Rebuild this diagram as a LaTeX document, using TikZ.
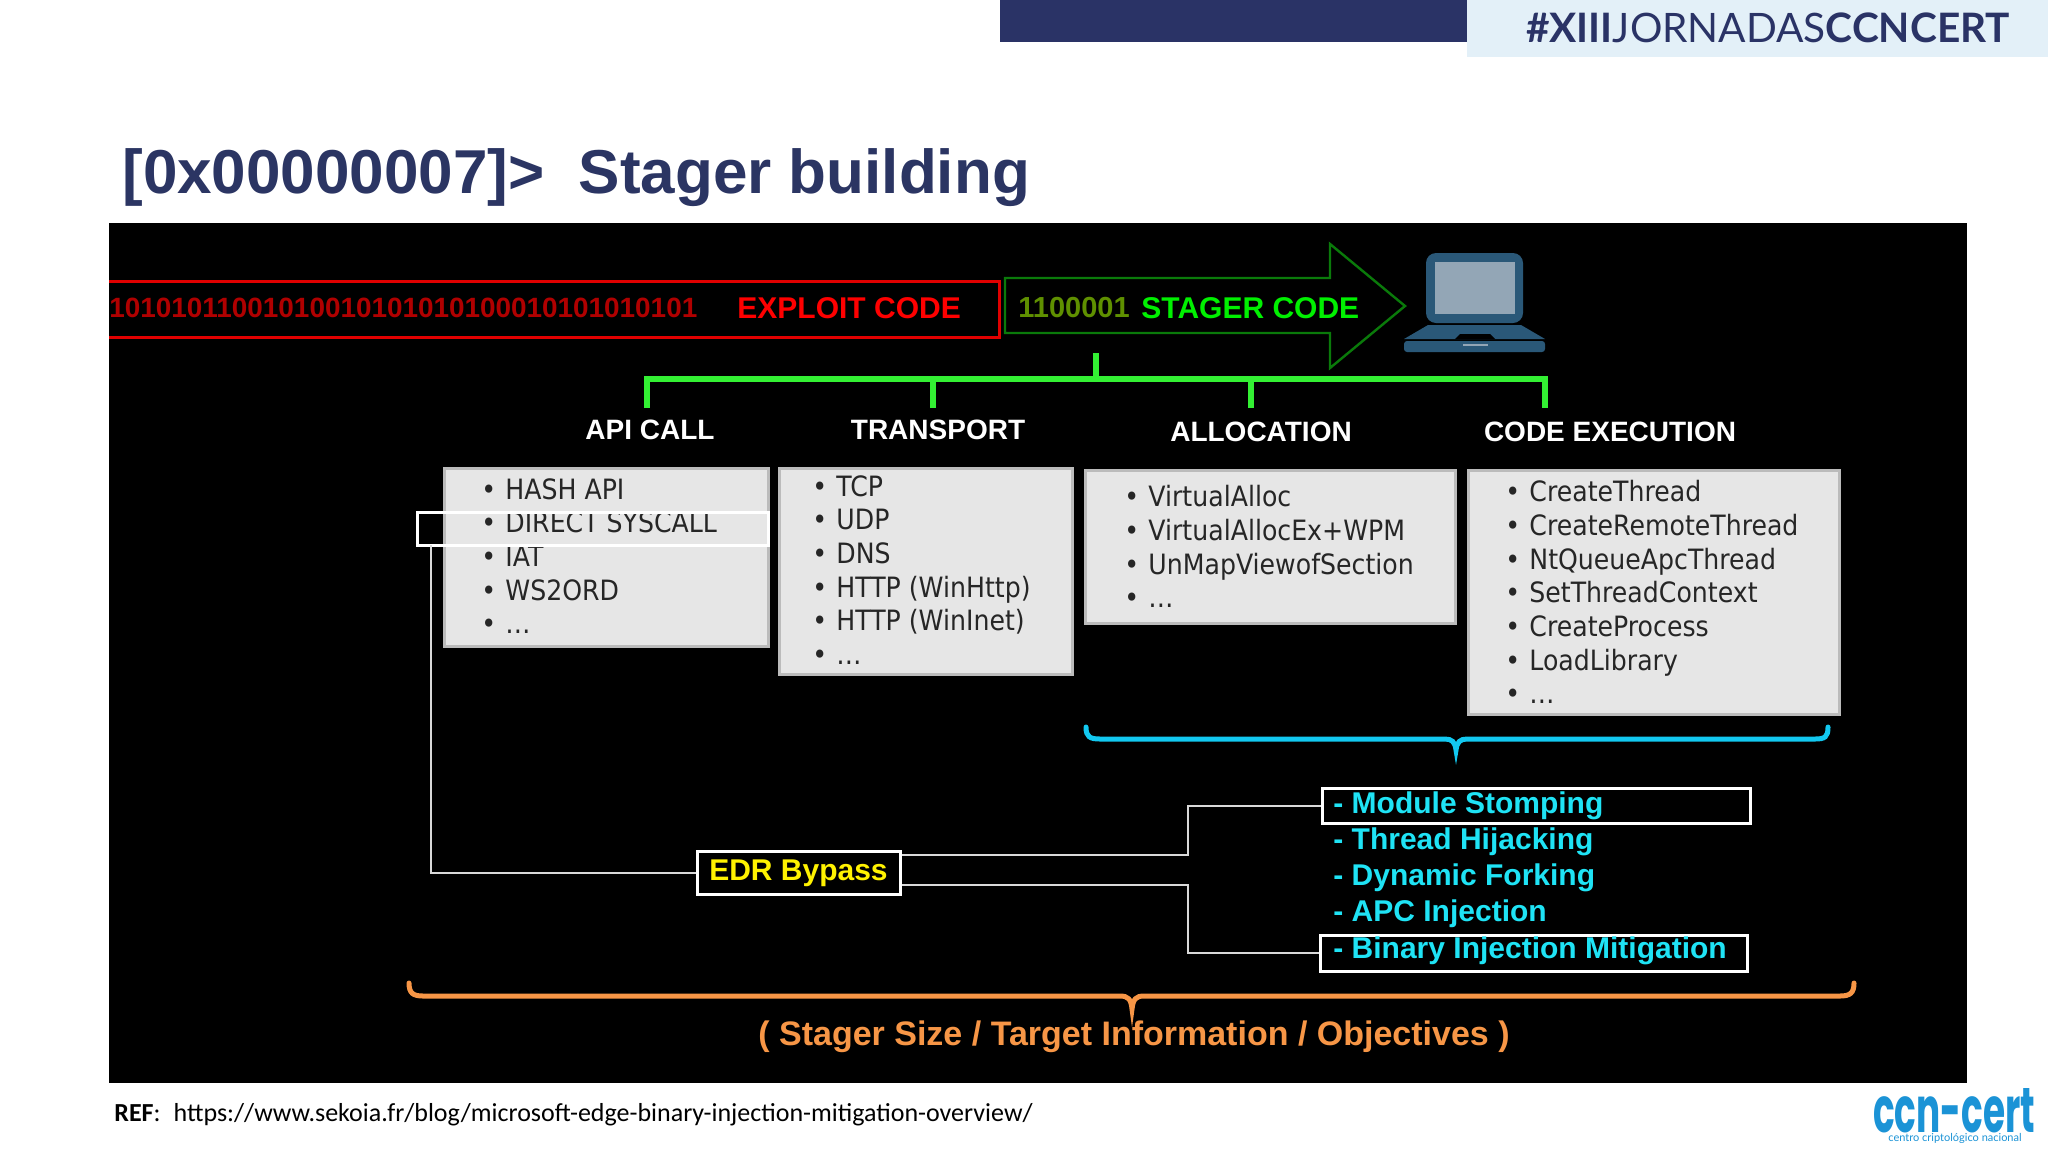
\documentclass[tikz,border=0pt]{standalone}
\usepackage{fontspec}
\setmainfont{Liberation Sans}
\newfontfamily\listfont[FakeStretch=0.9]{DejaVu Sans}
\newfontfamily\headfont{Lato}
\newfontfamily\reffont{Carlito}
\newfontfamily\logofont{Poppins}
\usetikzlibrary{calc}
\definecolor{navy}{HTML}{2A3366}
\definecolor{paleblue}{HTML}{E3F0F8}
\definecolor{titlecol}{HTML}{2B3563}
\definecolor{redbox}{HTML}{E00000}
\definecolor{darkred}{HTML}{B00000}
\definecolor{arrowgreen}{HTML}{0A7A0A}
\definecolor{olive}{HTML}{5F9000}
\definecolor{limeg}{HTML}{00F000}
\definecolor{brgreen}{HTML}{33F033}
\definecolor{boxgrey}{HTML}{E6E6E6}
\definecolor{boxedge}{HTML}{BBBBBB}
\definecolor{cyantext}{HTML}{1FE3F5}
\definecolor{cyanbrace}{HTML}{12C8F0}
\definecolor{orangec}{HTML}{F79646}
\definecolor{lapdark}{HTML}{2A5878}
\definecolor{lapscreen}{HTML}{93A6B6}
\definecolor{logoblue}{HTML}{1B93D6}
\newcommand{\itm}[1]{\makebox[12pt][l]{\raisebox{0pt}{\textbullet}}#1\\}
\tikzset{
  head/.style={text=white,font=\bfseries\fontsize{14}{16}\selectfont,inner sep=0pt},
  greybox/.style={draw=boxedge,line width=1.5pt,fill=boxgrey,inner sep=0pt},
  listtext/.style={anchor=north west,inner sep=0pt,align=left,text=black!85,font=\listfont\fontsize{14}{16.85}\selectfont},
  greenline/.style={draw=brgreen,line width=3pt},
  wire/.style={draw=white!85!black,line width=1pt},
  whitebox/.style={draw=white,line width=1.5pt,inner sep=0pt},
  mitig/.style={anchor=west,inner sep=0pt,text=cyantext,font=\bfseries\fontsize{15}{17}\selectfont},
}
\begin{document}
\begin{tikzpicture}[x=0.5pt,y=-0.5pt]
\useasboundingbox (0,0) rectangle (2048,1152);
\fill[white] (0,0) rectangle (2048,1152);
% header
\fill[navy] (1000,0) rectangle (1467,42);
\fill[paleblue] (1467,0) rectangle (2048,57);
\node[anchor=center,inner sep=0pt,text=navy] (tag) at (1768,28)
  {\resizebox{242pt}{!}{\headfont\fontsize{20}{22}\selectfont\bfseries \#XIII\mdseries JORNADAS\bfseries CCNCERT}};
\node[anchor=west,inner sep=0pt,text=titlecol,font=\bfseries\fontsize{31}{34}\selectfont] (title) at (122,178) {[0x00000007]>\hspace{0.55em}Stager building};
% black panel
\fill[black] (109,223) rectangle (1967,1083);
% exploit bar
\draw[redbox,line width=1.5pt] (109,281) -- (999,281) -- (999,337) -- (109,337);
\node[anchor=west,inner sep=0pt,text=darkred,font=\bfseries\fontsize{14.5}{16}\selectfont] (bits) at (109,308) {\resizebox{294pt}{!}{10101011001010010101010100010101010101}};
\node[anchor=west,inner sep=0pt,text=red,font=\bfseries\fontsize{15}{17}\selectfont] (exploit) at (737,308) {EXPLOIT CODE};
% stager arrow
\draw[arrowgreen,line width=1.2pt] (1005,278) -- (1330,278) -- (1330,244) -- (1405,306) -- (1330,368) -- (1330,333) -- (1005,333) -- cycle;
\node[anchor=west,inner sep=0pt,text=olive,font=\bfseries\fontsize{14.5}{16}\selectfont] (bin) at (1018,308) {1100001};
\node[anchor=west,inner sep=0pt,text=limeg,font=\bfseries\fontsize{15}{17}\selectfont] (stager) at (1141,308) {STAGER CODE};
% laptop
\fill[lapdark,rounded corners=5pt] (1426,253) -- (1523,253) -- (1523,323) -- (1426,323) -- cycle;
\fill[lapscreen] (1435,262) rectangle (1515,314);
\fill[lapdark] (1428,325) -- (1521,325) -- (1545,339) -- (1404,339) -- cycle;
\fill[black] (1455,339) -- (1460,334) -- (1490,334) -- (1495,339) -- cycle;
\fill[lapdark,rounded corners=1.5pt] (1404,341) rectangle (1545,352);
\fill[lapscreen] (1463,344) rectangle (1488,346);
% green bracket
\coordinate (stem) at (1096,353);
\coordinate (busA) at (1096,379);
\coordinate (legA) at (647,408);
\coordinate (legB) at (933,408);
\coordinate (legC) at (1251,408);
\coordinate (legD) at (1545,408);
\draw[greenline] (legA) |- (busA) -| (legD);
\draw[greenline] (stem) -- (busA);
\draw[greenline] (legB) -- (legB |- busA);
\draw[greenline] (legC) -- (legC |- busA);
% headings
\node[head] (hApi) at (650,430) {API CALL};
\node[head] (hTra) at (938,430) {TRANSPORT};
\node[head] (hAll) at (1261,432) {ALLOCATION};
\node[head] (hCod) at (1610,432) {CODE EXECUTION};
% grey boxes
\node[greybox,minimum width=162pt,minimum height=89pt] (bApi) at (606,557) {};
\node[greybox,minimum width=146.5pt,minimum height=103pt] (bTra) at (925.5,571) {};
\node[greybox,minimum width=185pt,minimum height=76.5pt] (bAll) at (1270,546.5) {};
\node[greybox,minimum width=185.5pt,minimum height=122pt] (bCod) at (1653.5,592) {};
\node[listtext] (lApi) at (481,478) {\itm{HASH API}\itm{DIRECT SYSCALL}\itm{IAT}\itm{WS2ORD}\itm{\dots}};
\node[listtext] (lTra) at (812,475) {\itm{TCP}\itm{UDP}\itm{DNS}\itm{HTTP (WinHttp)}\itm{HTTP (WinInet)}\itm{\dots}};
\node[listtext] (lAll) at (1124,485) {\itm{VirtualAlloc}\itm{VirtualAllocEx+WPM}\itm{UnMapViewofSection}\itm{\dots}};
\node[listtext] (lCod) at (1505,480) {\itm{CreateThread}\itm{CreateRemoteThread}\itm{NtQueueApcThread}\itm{SetThreadContext}\itm{CreateProcess}\itm{LoadLibrary}\itm{\dots}};
% selection
\node[whitebox,minimum width=175.5pt,minimum height=16.5pt] (sel) at (592.5,528.5) {};
\coordinate (selOut) at (431,545);
% EDR
\node[draw=white,line width=1.5pt,inner sep=0pt,minimum width=101.5pt,minimum height=21.5pt,text=yellow,font=\bfseries\fontsize{15}{17}\selectfont] (edr) at (798.5,873) {EDR Bypass};
\draw[wire] (selOut) |- (edr.west);
% mitigations
\node[whitebox,minimum width=214pt,minimum height=17.5pt] (mod) at (1536,805.5) {};
\node[whitebox,minimum width=213.5pt,minimum height=18pt] (bin2) at (1533.5,953) {};
\node[mitig] (m1) at (1333,806) {- Module Stomping};
\node[mitig] (m2) at (1333,842) {- Thread Hijacking};
\node[mitig] (m3) at (1333,878) {- Dynamic Forking};
\node[mitig] (m4) at (1333,914) {- APC Injection};
\node[mitig] (m5) at (1333,951) {- Binary Injection Mitigation};
\coordinate (joint) at (1188,873);
\draw[wire] ($(edr.east)+(0,-18)$) -| (joint |- mod.west) -- (mod.west);
\draw[wire] ($(edr.east)+(0,12)$) -| (joint |- bin2.west) -- (bin2.west);
% braces
\draw[cyanbrace,line width=2.5pt,line cap=round] (1086,727) .. controls (1086,737) and (1090,739) .. (1100,739) -- (1445,739) .. controls (1452,739) and (1455,742) .. (1456,750) .. controls (1457,742) and (1460,739) .. (1467,739) -- (1815,739) .. controls (1825,739) and (1828,737) .. (1828,727);
\draw[orangec,line width=2.5pt,line cap=round] (409,983) .. controls (409,993) and (413,996) .. (423,996) -- (1120,996) .. controls (1128,996) and (1131,999) .. (1132,1009) .. controls (1133,999) and (1136,996) .. (1144,996) -- (1840,996) .. controls (1850,996) and (1854,993) .. (1854,983);
\node[inner sep=0pt,text=orangec,font=\bfseries\fontsize{17}{19}\selectfont] (goal) at (1134,1037) {( Stager Size / Target Information / Objectives )};
% reference
\node[anchor=west,inner sep=0pt,text=black,font=\reffont\fontsize{13}{15}\selectfont] (ref) at (114,1115) {\textbf{REF}:\hspace{0.5em}https://www.sekoia.fr/blog/microsoft-edge-binary-injection-mitigation-overview/};
% logo
\node[anchor=center,inner sep=0pt,text=logoblue,font=\logofont\bfseries\fontsize{22}{24}\selectfont] (logo) at (1954,1111) {\resizebox{81pt}{22pt}{ccn-cert}};
\node[anchor=center,inner sep=0pt,text=logoblue,font=\headfont\fontsize{5.5}{6}\selectfont] (logosub) at (1955,1138) {centro criptológico nacional};
\end{tikzpicture}
\end{document}
